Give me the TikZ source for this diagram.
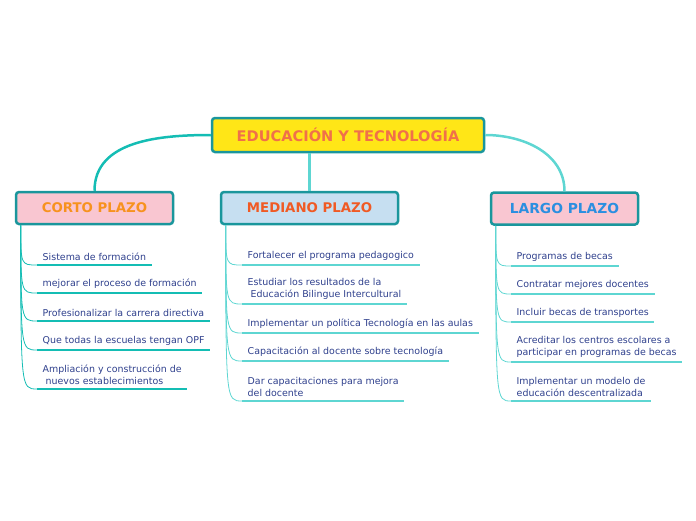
\documentclass[tikz,border=0pt]{standalone}
\usepackage{fontspec}
\setmainfont{DejaVu Sans}
\definecolor{boxline}{HTML}{1A969C}
\definecolor{rootfill}{HTML}{FFE617}
\definecolor{roottext}{HTML}{F0704A}
\definecolor{pinkfill}{HTML}{F9C6D1}
\definecolor{bluefill}{HTML}{C6DFF1}
\definecolor{cortotext}{HTML}{F7921E}
\definecolor{medianotext}{HTML}{F05A24}
\definecolor{largotext}{HTML}{2B8FE0}
\definecolor{ideatext}{HTML}{2E3F8C}
\definecolor{darkbranch}{HTML}{14BDB4}
\definecolor{lightbranch}{HTML}{5ED6D2}
\begin{document}
\begin{tikzpicture}[x=1pt, y=-1pt,
    box/.style={draw=boxline, line width=2.5pt, rounded corners=3pt,
      font=\bfseries\fontsize{13.3}{15}\selectfont, minimum height=32pt},
    idea/.style={anchor=south west, inner xsep=5.5pt, inner ysep=4.3pt,
      align=left, text=ideatext, font=\fontsize{9.45}{12}\selectfont},
    trunk/.style={line width=2.5pt},
    uline/.style={line width=1.8pt},
    twig/.style={line width=0.8pt}]

  \useasboundingbox (0,0) rectangle (696,520);

  % main topic and the three time frames
  \node[box, fill=rootfill, text=roottext, minimum width=272pt, minimum height=34pt,
    font=\bfseries\fontsize{14.6}{16}\selectfont] (root) at (348,135) {EDUCACIÓN Y TECNOLOGÍA};
  \node[box, fill=pinkfill, text=cortotext, minimum width=157pt] (corto) at (94.5,208) {CORTO PLAZO};
  \node[box, fill=bluefill, text=medianotext, minimum width=177pt] (mediano) at (309.5,208) {MEDIANO PLAZO};
  \node[box, fill=pinkfill, text=largotext, minimum width=147pt,
    font=\bfseries\fontsize{13.8}{15}\selectfont] (largo) at (564.5,208.5) {LARGO PLAZO};

  \draw[trunk, darkbranch] (root.west) to[out=180, in=90] (corto.north);
  \draw[trunk, lightbranch] (mediano.north |- root.south) -- (mediano.north);
  \draw[trunk, lightbranch] (root.east) to[out=0, in=90] (largo.north);

  % corto plazo
  \node[idea] (c1) at (37,265) {Sistema de formación};
  \node[idea] (c2) at (37,293) {mejorar el proceso de formación};
  \node[idea] (c3) at (37,321) {Profesionalizar la carrera directiva};
  \node[idea] (c4) at (37,350) {Que todas la escuelas tengan OPF};
  \node[idea] (c5) at (37,389) {Ampliación y construcción de\\ \ nuevos establecimientos};

  % mediano plazo
  \node[idea] (m1) at (242,265) {Fortalecer el programa pedagogico};
  \node[idea] (m2) at (242,304) {Estudiar los resultados de la\\ \ Educación Bilingue Intercultural};
  \node[idea] (m3) at (242,333) {Implementar un política Tecnología en las aulas};
  \node[idea] (m4) at (242,361) {Capacitación al docente sobre tecnología};
  \node[idea] (m5) at (242,401) {Dar capacitaciones para mejora\\del docente};

  % largo plazo
  \node[idea] (l1) at (511,266) {Programas de becas};
  \node[idea] (l2) at (511,294) {Contratar mejores docentes};
  \node[idea] (l3) at (511,322) {Incluir becas de transportes};
  \node[idea] (l4) at (511,362) {Acreditar los centros escolares a\\participar en programas de becas};
  \node[idea] (l5) at (511,401) {Implementar un modelo de\\educación descentralizada};

  \coordinate (cortofoot) at ([xshift=6pt]corto.south west);
  \coordinate (medianofoot) at ([xshift=6pt]mediano.south west);
  \coordinate (largofoot) at ([xshift=6pt]largo.south west);

  \foreach \n in {c1,c2,c3,c4,c5} {
    \draw[twig, darkbranch] (cortofoot) .. controls (cortofoot |- \n.south west) .. (\n.south west);
    \draw[uline, darkbranch] (\n.south west) -- (\n.south east);
  }
  \foreach \n in {m1,m2,m3,m4,m5} {
    \draw[twig, lightbranch] (medianofoot) .. controls (medianofoot |- \n.south west) .. (\n.south west);
    \draw[uline, lightbranch] (\n.south west) -- (\n.south east);
  }
  \foreach \n in {l1,l2,l3,l4,l5} {
    \draw[twig, lightbranch] (largofoot) .. controls (largofoot |- \n.south west) .. (\n.south west);
    \draw[uline, lightbranch] (\n.south west) -- (\n.south east);
  }

\end{tikzpicture}
\end{document}
